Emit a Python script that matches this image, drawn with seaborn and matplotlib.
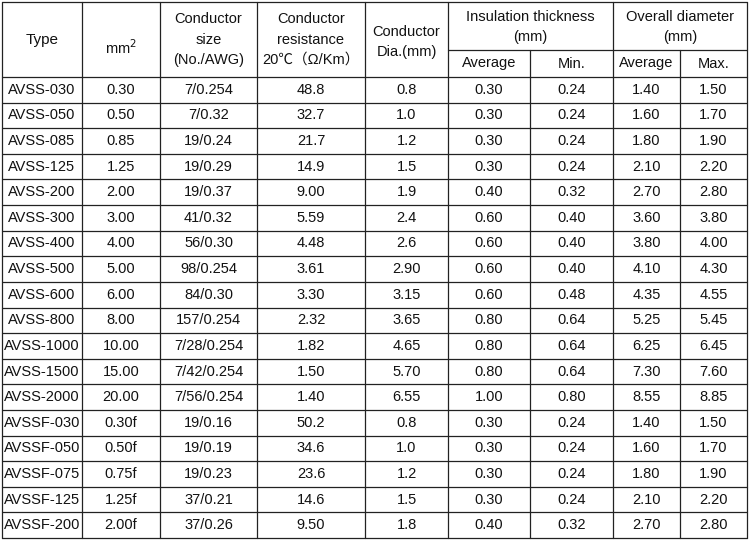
import seaborn as sns
import matplotlib.pyplot as plt

types = ["AVSS-030", "AVSS-050", "AVSS-085", "AVSS-125", "AVSS-200", "AVSS-300",
         "AVSS-400", "AVSS-500", "AVSS-600", "AVSS-800", "AVSS-1000", "AVSS-1500",
         "AVSS-2000", "AVSSF-030", "AVSSF-050", "AVSSF-075", "AVSSF-125", "AVSSF-200"]
mm2 = ["0.30", "0.50", "0.85", "1.25", "2.00", "3.00", "4.00", "5.00", "6.00", "8.00",
       "10.00", "15.00", "20.00", "0.30f", "0.50f", "0.75f", "1.25f", "2.00f"]
cond_size = ["7/0.254", "7/0.32", "19/0.24", "19/0.29", "19/0.37", "41/0.32", "56/0.30",
             "98/0.254", "84/0.30", "157/0.254", "7/28/0.254", "7/42/0.254", "7/56/0.254",
             "19/0.16", "19/0.19", "19/0.23", "37/0.21", "37/0.26"]
resistance = ["48.8", "32.7", "21.7", "14.9", "9.00", "5.59", "4.48", "3.61", "3.30", "2.32",
              "1.82", "1.50", "1.40", "50.2", "34.6", "23.6", "14.6", "9.50"]
cond_dia = ["0.8", "1.0", "1.2", "1.5", "1.9", "2.4", "2.6", "2.90", "3.15", "3.65",
            "4.65", "5.70", "6.55", "0.8", "1.0", "1.2", "1.5", "1.8"]
ins_avg = ["0.30", "0.30", "0.30", "0.30", "0.40", "0.60", "0.60", "0.60", "0.60", "0.80",
           "0.80", "0.80", "1.00", "0.30", "0.30", "0.30", "0.30", "0.40"]
ins_min = ["0.24", "0.24", "0.24", "0.24", "0.32", "0.40", "0.40", "0.40", "0.48", "0.64",
           "0.64", "0.64", "0.80", "0.24", "0.24", "0.24", "0.24", "0.32"]
od_avg = ["1.40", "1.60", "1.80", "2.10", "2.70", "3.60", "3.80", "4.10", "4.35", "5.25",
          "6.25", "7.30", "8.55", "1.40", "1.60", "1.80", "2.10", "2.70"]
od_max = ["1.50", "1.70", "1.90", "2.20", "2.80", "3.80", "4.00", "4.30", "4.55", "5.45",
          "6.45", "7.60", "8.85", "1.50", "1.70", "1.90", "2.20", "2.80"]

columns = [types, mm2, cond_size, resistance, cond_dia, ins_avg, ins_min, od_avg, od_max]

sns.set_theme(style="white")
plt.rcParams['font.family'] = ['Liberation Sans Narrow', 'Liberation Sans', 'Noto Sans CJK SC', 'DejaVu Sans']

# grid geometry in pixels
xs = [2, 82, 160, 257, 365, 448, 530, 613, 680, 747]
top, mid, head_bot, bottom = 2, 50, 77, 538
n = len(types)
row_h = (bottom - head_bot) / n

fig = plt.figure(figsize=(7.5, 5.42), dpi=100)
ax = fig.add_axes([0, 0, 1, 1])
ax.set_xlim(0, 750)
ax.set_ylim(542, 0)
ax.axis("off")

lc, lw = "#222222", 0.9
ax.plot([xs[0], xs[-1]], [top, top], color=lc, lw=lw)
ax.plot([xs[5], xs[-1]], [mid, mid], color=lc, lw=lw)
for i in range(n + 1):
    y = head_bot + i * row_h
    ax.plot([xs[0], xs[-1]], [y, y], color=lc, lw=lw)
for j, x in enumerate(xs):
    y0 = mid if j in (6, 8) else top
    ax.plot([x, x], [y0, bottom], color=lc, lw=lw)

fs = 10.5
tc = "#111111"
hy = (top + head_bot) / 2
ax.text((xs[0] + xs[1]) / 2, 40, "Type", ha="center", va="center", fontsize=fs + 0.5, color=tc)
ax.text((xs[1] + xs[2]) / 2, 48, "mm$^2$", ha="center", va="center", fontsize=fs, color=tc)
ax.text((xs[2] + xs[3]) / 2, hy, "Conductor\nsize\n(No./AWG)", ha="center", va="center",
        fontsize=fs, color=tc, linespacing=1.55)
ax.text((xs[3] + xs[4]) / 2, hy, "Conductor\nresistance\n20℃（Ω/Km）", ha="center", va="center",
        fontsize=fs, color=tc, linespacing=1.55)
ax.text((xs[4] + xs[5]) / 2, 42, "Conductor\nDia.(mm)", ha="center", va="center",
        fontsize=fs, color=tc, linespacing=1.55)
ax.text((xs[5] + xs[7]) / 2, 27, "Insulation thickness\n(mm)", ha="center", va="center",
        fontsize=fs, color=tc, linespacing=1.55)
ax.text((xs[7] + xs[9]) / 2, 27, "Overall diameter\n(mm)", ha="center", va="center",
        fontsize=fs, color=tc, linespacing=1.55)
for j, lab in zip(range(5, 9), ["Average", "Min.", "Average", "Max."]):
    ax.text((xs[j] + xs[j + 1]) / 2, (mid + head_bot) / 2, lab, ha="center", va="center",
            fontsize=fs, color=tc)

for j, col in enumerate(columns):
    cx = (xs[j] + xs[j + 1]) / 2
    for i, val in enumerate(col):
        ax.text(cx, head_bot + (i + 0.5) * row_h, val, ha="center", va="center",
                fontsize=fs, color=tc)

fig.savefig("out.png", dpi=100, facecolor="white")
